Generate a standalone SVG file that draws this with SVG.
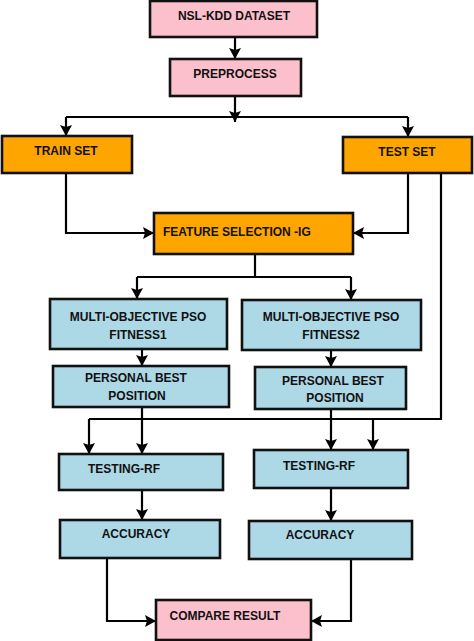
<svg xmlns="http://www.w3.org/2000/svg" width="474" height="641" viewBox="0 0 474 641">
<defs>
<marker id="ah" markerUnits="userSpaceOnUse" markerWidth="13" markerHeight="13" refX="11" refY="6.5" orient="auto">
<path d="M0,0.5 L11,6.5 L0,12.5 L2,6.5 z" fill="#000"/>
</marker>
<style>
.box{stroke:#111;stroke-width:2.6}
.pink{fill:#fbc0cc}
.orange{fill:#ffa500}
.blue{fill:#add8e6}
text{font-family:"Liberation Sans",Arial,sans-serif;font-weight:bold;font-size:12px;fill:#111;text-anchor:middle}
.con{fill:none;stroke:#000;stroke-width:2.2}
.arr{marker-end:url(#ah)}
</style>
</defs>
<rect width="474" height="641" fill="#fff"/>
<g id="connectors">
<path class="con arr" d="M235,37 V59"/>
<path class="con arr" d="M235,96 V122"/>
<path class="con" d="M66,117 H408"/>
<path class="con arr" d="M66,117 V136"/>
<path class="con arr" d="M408,117 V137"/>
<path class="con arr" d="M66,173 V233 H154"/>
<path class="con arr" d="M408,173 V233 H353"/>
<path class="con" d="M441,173 V419 H89"/>
<path class="con" d="M255,254 V277"/>
<path class="con" d="M137,277 H351"/>
<path class="con arr" d="M137,277 V299"/>
<path class="con arr" d="M351,277 V300"/>
<path class="con arr" d="M142,349 V366"/>
<path class="con arr" d="M331,350 V367"/>
<path class="con arr" d="M89,419 V454"/>
<path class="con arr" d="M142,407 V454"/>
<path class="con arr" d="M331,409 V450"/>
<path class="con arr" d="M373,419 V450"/>
<path class="con arr" d="M142,490 V520"/>
<path class="con arr" d="M331,488 V521"/>
<path class="con arr" d="M107,558 V621 H156"/>
<path class="con arr" d="M351,559 V621 H311"/>
</g>
<g id="nsl"><rect class="box pink" x="150" y="1" width="167" height="36"/><text x="234" y="20">NSL-KDD DATASET</text></g>
<g id="preprocess"><rect class="box pink" x="170" y="59" width="131" height="37"/><text x="235" y="78">PREPROCESS</text></g>
<g id="train"><rect class="box orange" x="2" y="136" width="130" height="37"/><text x="66" y="155">TRAIN SET</text></g>
<g id="test"><rect class="box orange" x="343" y="137" width="129" height="36"/><text x="407" y="156">TEST SET</text></g>
<g id="feature"><rect class="box orange" x="154" y="213" width="199" height="41"/><text x="163" y="236" style="text-anchor:start">FEATURE SELECTION -IG</text></g>
<g id="mopso1"><rect class="box blue" x="50" y="299" width="177" height="50"/><text x="138" y="321">MULTI-OBJECTIVE PSO</text><text x="138" y="339">FITNESS1</text></g>
<g id="mopso2"><rect class="box blue" x="242" y="300" width="179" height="50"/><text x="331" y="321">MULTI-OBJECTIVE PSO</text><text x="331" y="339">FITNESS2</text></g>
<g id="pb1"><rect class="box blue" x="53" y="366" width="176" height="41"/><text x="136" y="382">PERSONAL BEST</text><text x="137" y="400">POSITION</text></g>
<g id="pb2"><rect class="box blue" x="255" y="367" width="151" height="42"/><text x="333" y="385">PERSONAL BEST</text><text x="335" y="402">POSITION</text></g>
<g id="tr1"><rect class="box blue" x="59" y="454" width="164" height="36"/><text x="124" y="473">TESTING-RF</text></g>
<g id="tr2"><rect class="box blue" x="254" y="450" width="154" height="38"/><text x="319" y="470">TESTING-RF</text></g>
<g id="acc1"><rect class="box blue" x="60" y="520" width="160" height="38"/><text x="136" y="538">ACCURACY</text></g>
<g id="acc2"><rect class="box blue" x="249" y="521" width="163" height="38"/><text x="320" y="539">ACCURACY</text></g>
<g id="compare"><rect class="box pink" x="156" y="600" width="155" height="40"/><text x="225" y="620">COMPARE RESULT</text></g>
</svg>
